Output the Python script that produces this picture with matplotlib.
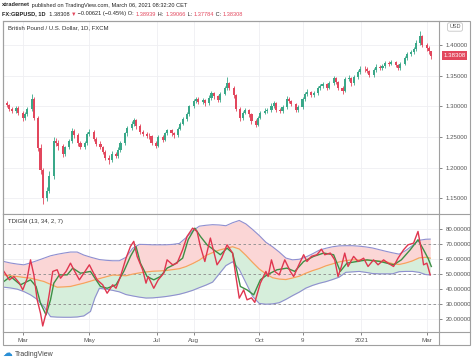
import matplotlib.pyplot as plt
import matplotlib.dates as mdates
import numpy as np
import pandas as pd
from matplotlib.patches import Rectangle
from matplotlib.lines import Line2D

# GBPUSD daily chart, drawn as one candle per 2 trading days from 2020-02-13
first_open = 1.310
closes = [1.306, 1.302, 1.296, 1.293, 1.298, 1.289, 1.281, 1.288, 1.296, 1.313,
          1.281, 1.232, 1.196, 1.150, 1.162, 1.186, 1.244, 1.241, 1.236, 1.222,
          1.233, 1.243, 1.260, 1.253, 1.240, 1.234, 1.240, 1.255, 1.259, 1.247,
          1.239, 1.233, 1.226, 1.216, 1.212, 1.223, 1.219, 1.229, 1.240, 1.256,
          1.265, 1.272, 1.278, 1.268, 1.259, 1.255, 1.252, 1.251, 1.240, 1.236,
          1.250, 1.246, 1.256, 1.261, 1.256, 1.253, 1.264, 1.272, 1.280, 1.288,
          1.300, 1.309, 1.312, 1.308, 1.311, 1.305, 1.314, 1.322, 1.317, 1.311,
          1.321, 1.330, 1.338, 1.331, 1.318, 1.296, 1.281, 1.290, 1.294, 1.287,
          1.276, 1.270, 1.282, 1.290, 1.293, 1.294, 1.301, 1.305, 1.295, 1.293,
          1.299, 1.313, 1.309, 1.304, 1.294, 1.299, 1.312, 1.320, 1.324, 1.319,
          1.322, 1.330, 1.333, 1.336, 1.331, 1.338, 1.346, 1.340, 1.331, 1.326,
          1.345, 1.347, 1.338, 1.348, 1.356, 1.362, 1.361, 1.358, 1.352, 1.359,
          1.365, 1.363, 1.366, 1.371, 1.370, 1.372, 1.368, 1.363, 1.370, 1.379,
          1.386, 1.389, 1.394, 1.404, 1.415, 1.401, 1.396, 1.390, 1.38308]
highs = [1.313, 1.309, 1.304, 1.299, 1.301, 1.300, 1.292, 1.291, 1.299, 1.320,
         1.316, 1.284, 1.238, 1.200, 1.168, 1.195, 1.250, 1.249, 1.245, 1.239,
         1.236, 1.247, 1.265, 1.263, 1.256, 1.243, 1.244, 1.258, 1.264, 1.261,
         1.250, 1.243, 1.236, 1.229, 1.220, 1.227, 1.226, 1.233, 1.244, 1.259,
         1.268, 1.276, 1.281, 1.280, 1.271, 1.262, 1.258, 1.257, 1.253, 1.243,
         1.253, 1.253, 1.259, 1.264, 1.263, 1.259, 1.267, 1.275, 1.283, 1.291,
         1.303, 1.313, 1.316, 1.315, 1.314, 1.313, 1.318, 1.325, 1.324, 1.319,
         1.324, 1.334, 1.349, 1.340, 1.333, 1.320, 1.299, 1.293, 1.297, 1.296,
         1.289, 1.279, 1.285, 1.293, 1.297, 1.298, 1.305, 1.309, 1.307, 1.298,
         1.302, 1.317, 1.316, 1.311, 1.306, 1.303, 1.316, 1.324, 1.328, 1.326,
         1.326, 1.333, 1.337, 1.340, 1.338, 1.342, 1.350, 1.348, 1.342, 1.334,
         1.348, 1.352, 1.349, 1.352, 1.360, 1.366, 1.366, 1.364, 1.360, 1.363,
         1.369, 1.368, 1.370, 1.375, 1.374, 1.376, 1.374, 1.370, 1.373, 1.382,
         1.389, 1.393, 1.398, 1.408, 1.424, 1.417, 1.404, 1.399, 1.391]
lows = [1.303, 1.299, 1.293, 1.290, 1.290, 1.286, 1.277, 1.278, 1.285, 1.293,
        1.278, 1.228, 1.190, 1.141, 1.146, 1.158, 1.182, 1.236, 1.229, 1.218,
        1.219, 1.230, 1.240, 1.249, 1.236, 1.230, 1.231, 1.237, 1.251, 1.244,
        1.236, 1.230, 1.222, 1.213, 1.206, 1.209, 1.215, 1.216, 1.226, 1.237,
        1.252, 1.261, 1.268, 1.264, 1.255, 1.251, 1.248, 1.247, 1.237, 1.232,
        1.233, 1.242, 1.243, 1.253, 1.252, 1.249, 1.250, 1.261, 1.269, 1.277,
        1.285, 1.297, 1.305, 1.304, 1.304, 1.301, 1.302, 1.311, 1.313, 1.308,
        1.308, 1.318, 1.327, 1.327, 1.314, 1.292, 1.277, 1.278, 1.287, 1.283,
        1.272, 1.267, 1.268, 1.279, 1.287, 1.289, 1.291, 1.298, 1.291, 1.289,
        1.290, 1.296, 1.305, 1.300, 1.291, 1.291, 1.296, 1.309, 1.317, 1.315,
        1.316, 1.319, 1.327, 1.330, 1.327, 1.328, 1.335, 1.336, 1.327, 1.320,
        1.323, 1.341, 1.334, 1.335, 1.345, 1.353, 1.357, 1.354, 1.348, 1.349,
        1.356, 1.359, 1.360, 1.363, 1.366, 1.367, 1.364, 1.359, 1.360, 1.367,
        1.376, 1.383, 1.386, 1.391, 1.401, 1.397, 1.391, 1.386, 1.378]
last_price = 1.38308

# TDI lines, x = days counted from 2020-03-01
band_days = [-16, -10, -4, 2, 8, 14, 20, 26, 32, 38, 44, 50, 56, 62, 66, 70, 76, 82, 88, 94,
             100, 106, 112, 118, 124, 130, 136, 142, 148, 154, 160, 166, 172, 178, 184, 190,
             196, 202, 208, 214, 220, 226, 232, 238, 244, 250, 256, 262, 268, 274, 280, 286,
             292, 298, 304, 310, 316, 322, 328, 334, 340, 346, 352, 358, 364, 368]
upper_band = [58.2, 57.2, 56.5, 56, 57.3, 58.8, 60.4, 62, 63, 63.8, 64.5, 64.5, 62.5, 61.1,
              60.3, 59.5, 59, 58.7, 58.7, 61, 67, 69.6, 69.5, 69.3, 69.3, 69.3, 69.6, 70.2,
              74, 78.5, 81.7, 82.3, 82.7, 82.5, 82, 84, 85.5, 83.2, 79.5, 75.5, 71, 68, 64.5,
              60.5, 59.3, 59.7, 61.2, 63.3, 65.7, 67, 68, 68.6, 68.7, 68.7, 68.4, 67.9, 67.2,
              66.1, 65, 64, 63.1, 65.5, 68.8, 72.3, 73, 73.1]
market_base = [49.3, 48.7, 48.2, 47.6, 47.1, 46, 44.9, 43, 41.1, 41.3, 41.6, 42.7, 43.8, 45.1,
               46, 46.8, 48, 49.2, 49, 48.7, 49.8, 50.6, 51.2, 51.7, 51.9, 52.2, 52.8, 53.4,
               54.8, 56.8, 59.1, 62.2, 64.1, 65.8, 66.9, 68, 66.5, 62.3, 57.6, 53.2, 50, 47.4,
               46.5, 46.2, 47.2, 48.4, 50.4, 52.1, 53.5, 55.3, 56.6, 57.9, 58.8, 59.3, 59.2,
               59, 58.8, 58.5, 58.1, 56.8, 56.2, 57.2, 58.6, 60.6, 61, 60.4]
lower_band = [41.1, 40.6, 39.8, 38.2, 36, 33, 28.2, 21.5, 21.2, 21.1, 21.1, 21.3, 22, 25, 34,
              40.4, 39.8, 39, 38, 36.2, 35.3, 34.5, 33.9, 34, 34.4, 34.9, 35.6, 36.4, 37.6, 39,
              40.8, 42.5, 44.5, 50, 55.5, 58, 53, 44, 35, 30.3, 29.8, 30, 30.8, 33, 35.5, 37.8,
              40.5, 42.3, 43.7, 44.8, 46.2, 47.8, 51, 51.3, 51.6, 51, 50.2, 50, 50, 50, 51.4,
              51.6, 51.6, 51, 49.5, 49.3]
rsi_days = [-16, -11, -7, -2, 1, 5, 8, 11, 14, 17, 19, 22, 25, 28, 32, 35, 40, 44, 47, 52,
            56, 61, 64, 68, 73, 77, 82, 85, 89, 94, 98, 101, 104, 109, 112, 114, 119, 123,
            128, 131, 136, 140, 145, 149, 154, 158, 161, 165, 170, 176, 180, 185, 190, 193,
            196, 200, 203, 207, 210, 215, 220, 222, 225, 228, 232, 237, 242, 245, 249, 254,
            257, 261, 266, 270, 273, 278, 282, 285, 288, 291, 294, 299, 303, 308, 312, 317,
            321, 326, 330, 335, 339, 344, 348, 353, 357, 360, 362, 365, 368]
rsi_line = [51.6, 46, 48.2, 43.8, 39.3, 47.1, 59.3, 49.3, 32.7, 23.8, 15.3, 23.8, 37.1, 51.6,
            52.7, 47.1, 51.6, 57.1, 52.7, 46, 50.4, 56, 51.6, 46, 42.7, 37.1, 42.7, 40.4, 48.2,
            60.4, 68.2, 71.6, 61.6, 52.7, 43.8, 48.2, 40.4, 46, 50.4, 59.3, 56, 57.1, 66, 74.9,
            80.4, 78.2, 68.2, 58.2, 73.8, 56, 60.4, 69.3, 63.8, 48.2, 33.8, 39.3, 32.7, 34, 31,
            43.8, 51.6, 48.2, 59.3, 51.6, 49.3, 59.3, 51.6, 48.2, 54.9, 62.7, 58.2, 61.6, 62.7,
            66.4, 62.7, 63.8, 59.3, 48.2, 54.9, 63.8, 54.9, 61.6, 58.2, 60.4, 54.9, 59.3, 56,
            59.3, 57.1, 54.9, 60.4, 66, 69.3, 70.4, 78.2, 66, 56, 57.1, 49.3]
signal_days = [-16, -10, -1, 8, 13, 17, 22, 26, 29, 34, 41, 46, 53, 62, 71, 77, 85, 92, 98,
               103, 107, 113, 119, 125, 131, 137, 145, 150, 156, 161, 167, 173, 179, 185, 190,
               194, 197, 203, 209, 215, 221, 230, 239, 246, 254, 263, 272, 281, 287, 293, 302,
               311, 323, 335, 342, 350, 357, 362, 366, 369]
signal_line = [44.9, 48.2, 42.7, 46, 41.6, 30.4, 22.7, 32.7, 43.8, 49.3, 49.3, 53.8, 50.4,
               51.6, 41.6, 40.4, 42.7, 51.6, 61.6, 68.2, 57.1, 48.2, 46, 48.2, 53.8, 56, 60.4,
               72.7, 80.4, 74.9, 69.3, 66, 62.7, 67.1, 63.8, 51.6, 41.6, 39.3, 36, 46, 49.3,
               52.7, 53.8, 51.6, 58.2, 61.6, 63.8, 62.7, 51.6, 57.1, 58.2, 59.3, 58.2, 56, 59.3,
               66, 72.7, 66, 60.4, 54.9]

price_ticks = [1.15, 1.20, 1.25, 1.30, 1.35, 1.40]
tdi_ticks = [20, 30, 40, 50, 60, 70, 80]
date_ticks = ['2020-03-02', '2020-05-01', '2020-07-01', '2020-08-03', '2020-10-01',
              '2020-11-09', '2021-01-01', '2021-03-01']
date_labels = ['Mar', 'May', 'Jul', 'Aug', 'Oct', '9', '2021', 'Mar']

FONT = ['Liberation Sans', 'DejaVu Sans']
plt.rcParams['font.family'] = FONT
W, H = 474, 363
UP, DOWN = '#3aa889', '#e2475d'
FRAME = '#a0a0a0'
HEAD_FS = 4.1


def fx(px):
    return px / W


def fy(py):
    return 1 - py / H


fig = plt.figure(figsize=(W / 100, H / 100), dpi=100)
ax1 = fig.add_axes([fx(3), fy(214), (439 - 3) / W, (214 - 21) / H])
ax2 = fig.add_axes([fx(3), fy(332), (439 - 3) / W, (332 - 214) / H], sharex=ax1)

# candles
bar_dates = pd.bdate_range('2020-02-13', periods=len(closes), freq='2B')
x = mdates.date2num(bar_dates.to_pydatetime())
c = np.array(closes)
o = np.array([first_open] + closes[:-1])
colors = [UP if cc >= oo else DOWN for oo, cc in zip(o, c)]
ax1.vlines(x, lows, highs, colors=colors, lw=0.6, zorder=3)
ax1.bar(x, np.maximum(np.abs(c - o), 0.0008), bottom=np.minimum(o, c), width=1.9,
        color=colors, zorder=4)

ax1.set_ylim(1.1243, 1.4397)
x0 = mdates.date2num(pd.Timestamp('2020-02-13 05:00'))
x1 = mdates.date2num(pd.Timestamp('2021-03-11 22:00'))
ax1.set_xlim(x0, x1)

# TDI
base = mdates.date2num(pd.Timestamp('2020-03-01'))
bx = base + np.array(band_days)
ax2.fill_between(bx, upper_band, market_base, color='#fbd6d6', lw=0, zorder=1)
ax2.fill_between(bx, market_base, lower_band, color='#d6eedb', lw=0, zorder=1)
ax2.plot(bx, upper_band, color='#8f8fd0', lw=0.8, zorder=3)
ax2.plot(bx, lower_band, color='#8f8fd0', lw=0.8, zorder=3)
ax2.plot(bx, market_base, color='#f4a45e', lw=0.9, zorder=3)
ax2.plot(base + np.array(signal_days), signal_line, color='#3d8f45', lw=1.0, zorder=4)
ax2.plot(base + np.array(rsi_days), rsi_line, color='#e0364f', lw=1.0, zorder=5)
for lvl in [70, 50, 30]:
    ax2.axhline(lvl, color='#8a8a8a', lw=0.6, ls=(0, (3, 3)), zorder=2)
ax2.set_ylim(11.3, 89.8)

# axes styling
tick_nums = mdates.date2num(pd.to_datetime(date_ticks).to_pydatetime())
for ax in (ax1, ax2):
    for s in ax.spines.values():
        s.set_color(FRAME)
        s.set_linewidth(0.8)
    ax.yaxis.tick_right()
    ax.grid(True, color='#efeff2', lw=0.6, zorder=0)
    ax.set_axisbelow(True)
    ax.tick_params(axis='y', length=2, width=0.5, pad=3, labelsize=4.4,
                   colors='#555555')
    ax.set_xticks(tick_nums)
ax1.set_yticks(price_ticks)
ax1.set_yticklabels(['%.5f' % v for v in price_ticks])
ax2.set_yticks(tdi_ticks)
ax2.set_yticklabels(['%.5f' % v for v in tdi_ticks])
ax1.tick_params(axis='x', length=0, labelbottom=False)
ax2.set_xticklabels(date_labels)
ax2.tick_params(axis='x', length=2, width=0.5, pad=2, labelsize=4.5, colors='#555555')

# outer frame and separators
fig.add_artist(Rectangle((fx(3), fy(345)), (470 - 3) / W, (345 - 21) / H,
                         transform=fig.transFigure, fill=False, ec=FRAME, lw=0.8))
for y in (214, 332):
    fig.add_artist(Line2D([fx(439), fx(470)], [fy(y), fy(y)], color=FRAME, lw=0.8))
fig.add_artist(Line2D([fx(439), fx(439)], [fy(332), fy(345)], color=FRAME, lw=0.8))

# last price label
ax1.text(1.01, last_price, '%.5f' % last_price, transform=ax1.get_yaxis_transform(),
         fontsize=4.4, color='white', va='center', ha='left',
         bbox=dict(boxstyle='square,pad=0.3', fc='#e2475d', ec='none'))
fig.text(fx(455), fy(27), 'USD', fontsize=4.0, color='#555555', ha='center', va='center',
         bbox=dict(boxstyle='round,pad=0.3', fc='white', ec='#bbbbbb', lw=0.5))

# panel captions
fig.text(fx(8), fy(28), 'British Pound / U.S. Dollar, 1D, FXCM', fontsize=4.3,
         color='#333333', va='center')
fig.text(fx(8), fy(222), 'TDIGM (13, 34, 2, 7)', fontsize=4.3, color='#333333',
         va='center')

# header lines: bold lead-in, then plain segments placed by measured prefix widths
renderer = fig.canvas.get_renderer()


def text_w(s, wt='normal'):
    t = fig.text(0, 0, s + '|', fontsize=HEAD_FS, fontweight=wt)
    w = t.get_window_extent(renderer).width
    t.remove()
    t = fig.text(0, 0, '|', fontsize=HEAD_FS, fontweight=wt)
    w -= t.get_window_extent(renderer).width
    t.remove()
    return w


def write_line(head, parts, px, py):
    fig.text(fx(px), fy(py), head, fontsize=HEAD_FS, color=DARK, fontweight='bold',
             va='center', ha='left')
    start = px + text_w(head, 'bold')
    prefix = ''
    for s, col in parts:
        fig.text(fx(start + text_w(prefix)), fy(py), s, fontsize=HEAD_FS, color=col,
                 va='center', ha='left')
        prefix += s


DARK, RED = '#222222', '#e2475d'
write_line('xtradernet',
           [(' published on TradingView.com, March 06, 2021 08:32:20 CET', DARK)], 2, 5)
write_line('FX:GBPUSD, 1D',
           [('  1.38308 ', DARK), ('\u25bc', RED), (' \u22120.00621 (\u22120.45%) O: ', DARK),
            ('1.38939', RED), (' H: ', DARK), ('1.39066', RED), (' L: ', DARK),
            ('1.37784', RED), (' C: ', DARK), ('1.38308', RED)], 2, 14)

# TradingView logo
fig.text(fx(2), fy(353), '\u2601', fontsize=7, color='#2a8fd6', va='center',
         family='DejaVu Sans')
fig.text(fx(15), fy(354), 'TradingView', fontsize=5, color='#444444', va='center')

fig.savefig('out.png', dpi=100)
